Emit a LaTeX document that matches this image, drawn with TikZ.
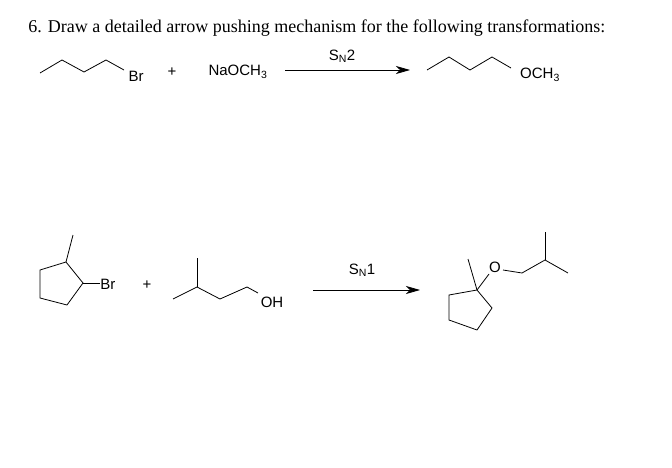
\documentclass[tikz,border=0pt]{standalone}
\usepackage{fontspec}
\setmainfont{Liberation Serif}
\newfontfamily\arialf{Liberation Sans}
\usetikzlibrary{arrows.meta}
\begin{document}
\begin{tikzpicture}[x=1pt,y=-1pt,line width=0.8pt,
  lab/.style={font=\arialf\fontsize{15}{17}\selectfont,inner sep=0pt},
  rxn/.style={-{Stealth[length=14pt,width=8pt,inset=4pt]},line width=0.8pt}]
\useasboundingbox (0,0) rectangle (672,468);
\node[anchor=west,inner sep=0pt,font=\fontsize{18}{20}\selectfont] (title) at (28,28) {6. Draw a detailed arrow pushing mechanism for the following transformations:};
% row 1
\draw (40,73)--(62,60)--(84,72)--(106,60)--(124,70);
\node[lab] (br1) at (136,76) {Br};
\node[lab] (p1) at (172,72) {+};
\node[lab] (naoch3) at (238,72) {NaOCH\textsubscript{3}};
\coordinate (a1s) at (285,70); \coordinate (a1e) at (410,70);
\draw[rxn] (a1s)--(a1e);
\node[lab] (sn2) at (342,56) {S\textsubscript{N}2};
\draw (427,70)--(449,57)--(470,70)--(492,57)--(511,68);
\node[lab] (och3) at (540,75) {OCH\textsubscript{3}};
% row 2
\draw (66,262)--(83,283)--(67,305)--(40,298)--(40,270)--cycle;
\draw (66,262)--(73,235);
\draw (83,283)--(100,283);
\node[lab,anchor=west] (br2) at (100,284) {Br};
\node[lab] (p2) at (147,285) {+};
\draw (173,299)--(197,287)--(220,299)--(247,287)--(258,293);
\draw (197,287)--(197,258);
\node[lab] (oh) at (272,302) {OH};
\coordinate (a2s) at (313,290); \coordinate (a2e) at (420,290);
\draw[rxn] (a2s)--(a2e);
\node[lab] (sn1) at (362,270) {S\textsubscript{N}1};
\draw (477,290)--(492,308)--(477,330)--(449,320)--(449,295)--cycle;
\draw (477,290)--(468,259);
\draw (477,290)--(489,274);
\node[lab] (o) at (495,267) {O};
\draw (503,270)--(522,273)--(545,260)--(568,273);
\draw (545,260)--(545,232);
\end{tikzpicture}
\end{document}
